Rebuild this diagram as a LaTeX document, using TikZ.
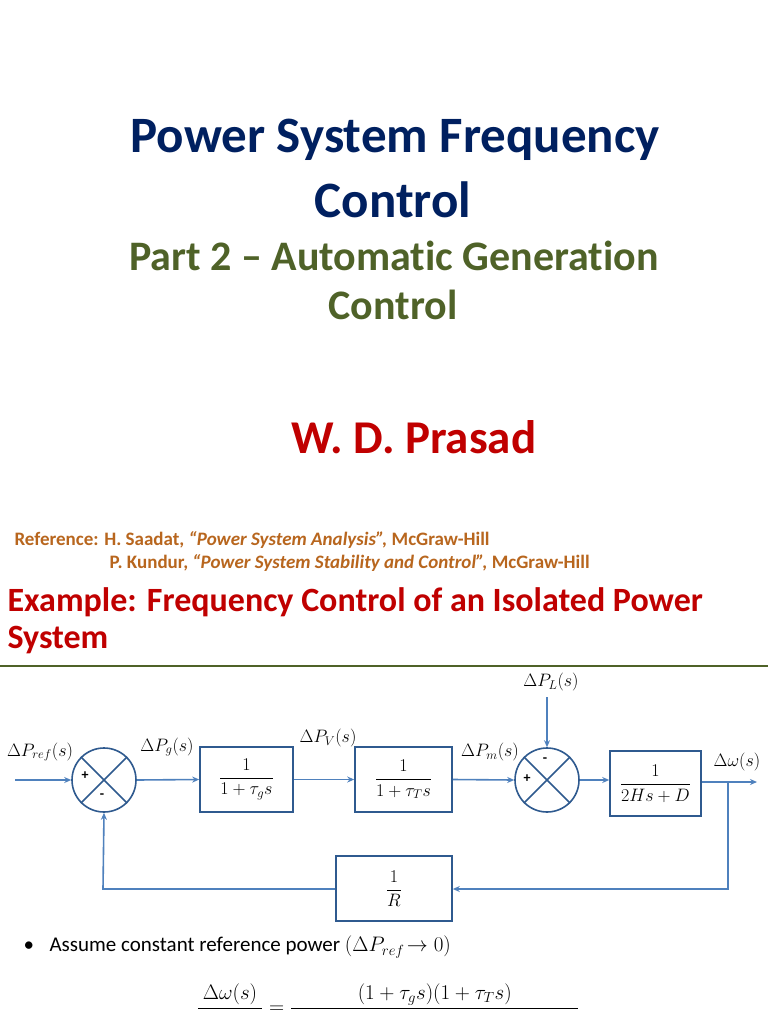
\documentclass[tikz,border=0pt]{standalone}
\usepackage{fix-cm}
\usepackage{fontspec}
\setmainfont[Ligatures=NoCommon]{Carlito}
\usetikzlibrary{arrows.meta}
\definecolor{navy}{HTML}{002060}
\definecolor{olive}{HTML}{4F6228}
\definecolor{dred}{HTML}{C00000}
\definecolor{refc}{HTML}{B8661E}
\definecolor{lblue}{HTML}{4F81BD}
\definecolor{bblue}{HTML}{2F5A8F}
\definecolor{sep}{HTML}{4F6228}
\tikzset{
  blk/.style={draw=bblue,line width=1.6pt,minimum width=#1,minimum height=65pt,inner sep=0pt,font=\fontsize{18}{20}\selectfont},
  blk/.default=93pt,
  sumj/.style={draw=bblue,line width=1.6pt,circle,minimum size=64pt,inner sep=0pt},
  sig/.style={-{Stealth[length=7pt,width=6pt]},draw=lblue,line width=1.6pt},
  lbl/.style={font=\fontsize{18}{20}\selectfont},
  sgn/.style={font=\fontsize{14}{15}\selectfont\bfseries}
}
\begin{document}
\begin{tikzpicture}[x=1pt,y=-1pt]
\useasboundingbox (0,0) rectangle (768,1024);
\fill[white] (0,0) rectangle (768,1024);
% titles
\node[text=navy,font=\fontsize{51}{56}\selectfont\bfseries] (t1) at (395,140) {Power System Frequency};
\node[text=navy,font=\fontsize{51}{56}\selectfont\bfseries] (t2) at (393,200) {Control};
\node[text=olive,font=\fontsize{42}{46}\selectfont\bfseries] (t3) at (394,256) {Part 2 – Automatic Generation};
\node[text=olive,font=\fontsize{42}{46}\selectfont\bfseries] (t4) at (393,305) {Control};
\node[text=dred,font=\fontsize{47}{52}\selectfont\bfseries] (t5) at (414,437) {W. D. Prasad};
\node[text=refc,font=\fontsize{19}{21}\selectfont\bfseries,anchor=west] (r1) at (11,540) {Reference: H. Saadat, \textit{“Power System Analysis”,} McGraw-Hill};
\node[text=refc,font=\fontsize{19}{21}\selectfont\bfseries,anchor=west] (r2) at (106,563) {P. Kundur, \textit{“Power System Stability and Control”,} McGraw-Hill};
\node[text=dred,font=\fontsize{34}{38}\selectfont\bfseries,anchor=west] (e1) at (4,602) {Example: Frequency Control of an Isolated Power};
\node[text=dred,font=\fontsize{34}{38}\selectfont\bfseries,anchor=west] (e2) at (4,640) {System};
\draw[sep,line width=2pt] (0,666) -- (768,666);
% block diagram
\node[sumj] (s1) at (104,780) {};
\draw[bblue,line width=1.6pt] (s1.north west) -- (s1.south east) (s1.north east) -- (s1.south west);
\node[sumj] (s2) at (547,780) {};
\draw[bblue,line width=1.6pt] (s2.north west) -- (s2.south east) (s2.north east) -- (s2.south west);
\node[blk] (b1) at (246.5,779.5) {$\displaystyle\frac{1}{1+\tau_g s}$};
\node[blk=97pt] (b2) at (403.5,779.5) {$\displaystyle\frac{1}{1+\tau_T s}$};
\node[blk=91pt] (b3) at (655.5,783.5) {$\displaystyle\frac{1}{2Hs+D}$};
\node[blk=116pt] (b4) at (394,888.5) {$\displaystyle\frac{1}{R}$};
\coordinate (in) at (15,780);
\coordinate (pl) at (547,697);
\coordinate (out) at (757,782);
\coordinate (br) at (728,782);
\coordinate (brd) at (728,889);
\coordinate (fbl) at (103,889);
\draw[sig] (in) -- (s1.west);
\draw[sig] (s1.east) -- (b1.west);
\draw[sig] (b1.east) -- (b2.west);
\draw[sig] (b2.east) -- (s2.west);
\draw[sig] (s2.east) -- (b3.west |- s2.east);
\draw[sig] (pl) -- (s2.north);
\draw[sig] (b3.east |- out) -- (out);
\draw[sig] (br) -- (brd) -- (b4.east |- brd);
\draw[sig] (b4.west |- fbl) -- (fbl) -- (s1.south);
\node[lbl] (lref) at (40,752) {$\Delta P_{ref}(s)$};
\node[lbl] (lg) at (167,747) {$\Delta P_g(s)$};
\node[lbl] (lv) at (328,738) {$\Delta P_V(s)$};
\node[lbl] (lm) at (490,752) {$\Delta P_m(s)$};
\node[lbl] (lw) at (737,762) {$\Delta\omega(s)$};
\node[lbl] (lL) at (551,682) {$\Delta P_L(s)$};
\node[sgn] (p1) at (85,776) {+};
\node[sgn] (m1) at (102,796) {-};
\node[sgn] (m2) at (545,760) {-};
\node[sgn] (p2) at (527,779) {+};
% text
\node[font=\fontsize{21}{24}\selectfont,anchor=west] (bul) at (20,947) {•};
\node[font=\fontsize{21}{24}\selectfont,anchor=west] (as) at (46,947) {Assume constant reference power $\bigl(\Delta P_{ref}\!\rightarrow 0\bigr)$};
\begin{scope}
\clip (0,0) rectangle (768,1024);
\node[font=\fontsize{21}{24}\selectfont,anchor=north] (eq) at (388,980) {$\displaystyle\frac{\Delta\omega(s)}{\hphantom{\Delta P_L(s)}} = \frac{(1+\tau_g s)(1+\tau_T s)}{\hphantom{(2Hs+D)(1+\tau_g s)(1+\tau_T s)+\frac{1}{R}}}$};
\end{scope}
\end{tikzpicture}
\end{document}
